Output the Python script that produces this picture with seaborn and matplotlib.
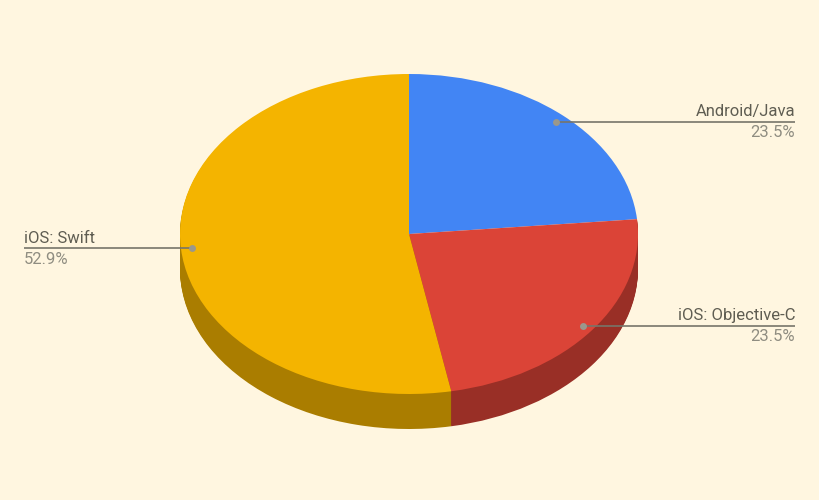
import numpy as np
import matplotlib
matplotlib.use("Agg")
import matplotlib.pyplot as plt
import seaborn as sns

labels = ["Android/Java", "iOS: Objective-C", "iOS: Swift"]
values = [23.5, 23.5, 52.9]
top_colors = ["#4285F4", "#DB4437", "#F4B400"]
side_colors = ["none", "#992F26", "#AA7D00"]
pct_labels = ["23.5%", "23.5%", "52.9%"]

BG = "#FFF6E0"
W, H = 819, 500
CX, CY, RX, RY, DEPTH = 409, 234, 229, 160, 35
LABEL_X = [795, 795, 24]

sns.set_theme(style="white")
plt.rcParams["font.family"] = ["Roboto", "DejaVu Sans"]

fig = plt.figure(figsize=(W / 100, H / 100), dpi=100, facecolor=BG)
ax = fig.add_axes([0, 0, 1, 1], facecolor=BG)

for step in range(DEPTH, 0, -1):
    ax.pie(values, colors=side_colors, startangle=90, counterclock=False,
           center=(0, -step / RY), radius=1, wedgeprops={"linewidth": 0})
ax.pie(values, colors=top_colors, startangle=90, counterclock=False,
       center=(0, 0), radius=1, wedgeprops={"linewidth": 0})

ax.set_aspect("auto")
ax.set_xlim(-CX / RX, (W - CX) / RX)
ax.set_ylim((CY - H) / RY, CY / RY)
ax.set_axis_off()

fractions = np.array(values) / np.sum(values)
mids = (np.cumsum(fractions) - fractions / 2) * 2 * np.pi
line_color = "#77756A"
for name, pct, mid, lx in zip(labels, pct_labels, mids, LABEL_X):
    ax_x = 0.95 * np.sin(mid)
    ax_y = 0.95 * np.cos(mid)
    end_x = (lx - CX) / RX
    ax.plot([ax_x, end_x], [ax_y, ax_y], color=line_color, lw=1.2, zorder=5, solid_capstyle="butt")
    ax.plot([ax_x], [ax_y], "o", color="#9A988C", ms=5, mew=0, zorder=6)
    ha = "right" if lx > CX else "left"
    ax.annotate(name, (end_x, ax_y), xytext=(0, 1.8), textcoords="offset points",
                ha=ha, va="bottom", fontsize=12, color="#5F5D52", zorder=7)
    ax.annotate(pct, (end_x, ax_y), xytext=(0, -2.5), textcoords="offset points",
                ha=ha, va="top", fontsize=12, color="#8F8D81", zorder=7)

fig.savefig("out.png", dpi=100, facecolor=BG)
